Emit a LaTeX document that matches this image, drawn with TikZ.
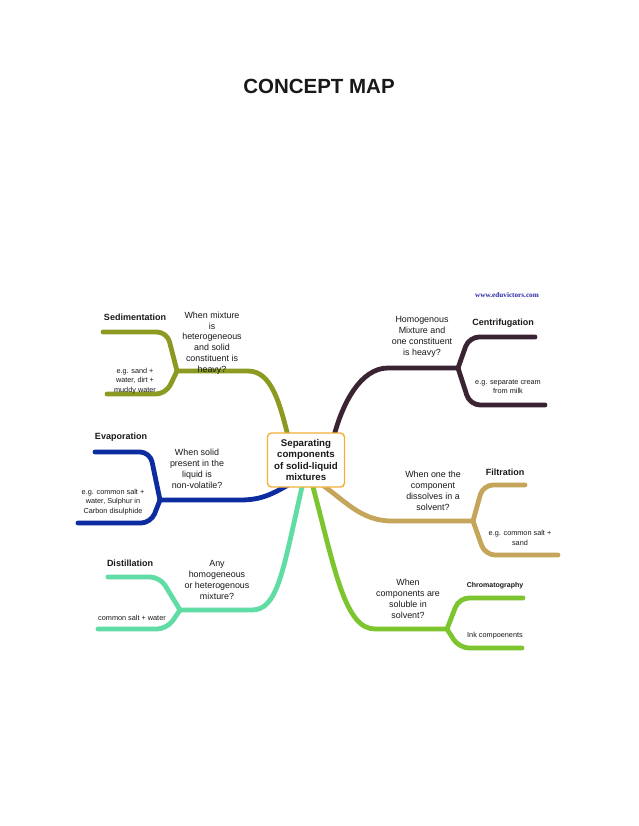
\documentclass[tikz,border=0pt]{standalone}
\usepackage{fontspec}
\setmainfont{Liberation Sans}
\newfontfamily\webfont{Liberation Serif}
\definecolor{colOlive}{RGB}{140,154,34}
\definecolor{colPurple}{RGB}{58,35,50}
\definecolor{colBlue}{RGB}{12,44,160}
\definecolor{colTan}{RGB}{196,165,90}
\definecolor{colMint}{RGB}{96,220,165}
\definecolor{colGreen}{RGB}{125,197,46}
\definecolor{colOrange}{RGB}{242,176,53}
\definecolor{colWeb}{RGB}{40,40,170}
\definecolor{colText}{RGB}{25,25,25}
\begin{document}
\begin{tikzpicture}[x=1pt,y=-1pt,
  br/.style={line width=4.8pt, line cap=round, line join=round},
  sub/.style={br, rounded corners=10pt},
  qtext/.style={align=center, font=\fontsize{8.9}{10.8}\selectfont, inner sep=0pt, text=colText},
  head/.style={font=\bfseries\fontsize{9}{11}\selectfont, inner sep=0pt, text=colText},
  extext/.style={align=center, font=\fontsize{7.3}{9.3}\selectfont, inner sep=0pt, text=colText},
]
\useasboundingbox (0,0) rectangle (638,826);
\fill[white] (0,0) rectangle (638,826);

% title
\node[font=\bfseries\fontsize{20.5}{24}\selectfont, text=colText] (title) at (319,86) {CONCEPT MAP};
\node[font=\webfont\bfseries\fontsize{7.2}{9}\selectfont, text=colWeb, inner sep=0pt] (web) at (507,295) {www.eduvictors.com};

% junction and end coordinates
\coordinate (o0) at (288,436); \coordinate (o1) at (248,371); \coordinate (oj) at (177,371);
\coordinate (ot) at (103,332); \coordinate (ob) at (107,394);
\coordinate (p0) at (334,436); \coordinate (p1) at (388,368); \coordinate (pj) at (458,368);
\coordinate (pt) at (535,337); \coordinate (pb) at (545,405);
\coordinate (b0) at (290,484); \coordinate (b1) at (240,500); \coordinate (bj) at (160,500);
\coordinate (bt) at (95,452); \coordinate (bb) at (78,523);
\coordinate (t0) at (318,482); \coordinate (t1) at (392,521); \coordinate (tj) at (473,521);
\coordinate (tt) at (525,485); \coordinate (tb) at (558,555);
\coordinate (m0) at (302,487); \coordinate (m1) at (252,610); \coordinate (mj) at (180,610);
\coordinate (mt) at (108,577); \coordinate (mb) at (98,629);
\coordinate (g0) at (313,487); \coordinate (g1) at (375,629); \coordinate (gj) at (447,629);
\coordinate (gt) at (523,598); \coordinate (gb) at (522,648);

% olive branch
\draw[br,colOlive] (o0) .. controls (280,405) and (272,371) .. (o1) -- (oj);
\draw[sub,colOlive] (oj) -- (167,332) -- (ot);
\draw[sub,colOlive] (oj) -- (166,394) -- (ob);
% purple branch
\draw[br,colPurple] (p0) .. controls (342,405) and (360,368) .. (p1) -- (pj);
\draw[sub,colPurple] (pj) -- (469,337) -- (pt);
\draw[sub,colPurple] (pj) -- (470,405) -- (pb);
% blue branch
\draw[br,colBlue] (b0) .. controls (272,494) and (262,500) .. (b1) -- (bj);
\draw[sub,colBlue] (bj) -- (150,452) -- (bt);
\draw[sub,colBlue] (bj) -- (151,523) -- (bb);
% tan branch
\draw[br,colTan] (t0) .. controls (345,500) and (360,521) .. (t1) -- (tj);
\draw[sub,colTan] (tj) -- (483,485) -- (tt);
\draw[sub,colTan] (tj) -- (485,555) -- (tb);
% mint branch
\draw[br,colMint] (m0) .. controls (283,570) and (278,610) .. (m1) -- (mj);
\draw[sub,colMint] (mj) -- (160,577) -- (mt);
\draw[sub,colMint] (mj) -- (167,629) -- (mb);
% green branch
\draw[br,colGreen] (g0) .. controls (335,570) and (345,629) .. (g1) -- (gj);
\draw[sub,colGreen] (gj) -- (459,598) -- (gt);
\draw[sub,colGreen] (gj) -- (459,648) -- (gb);

% central box
\node[draw=colOrange, line width=1.4pt, rounded corners=4pt, fill=white,
      minimum width=77pt, minimum height=54pt, align=center, inner sep=1pt,
      font=\bfseries\fontsize{9.7}{11.3}\selectfont, text=colText] (box) at (306,460)
      {Separating\\components\\of solid-liquid\\mixtures};

% olive texts
\node[qtext] (q1) at (212,343) {When mixture\\is\\heterogeneous\\and solid\\constituent is\\heavy?};
\node[head] (h1) at (135,317) {Sedimentation};
\node[extext] (e1) at (135,381) {e.g. sand +\\water, dirt +\\muddy water};
% purple texts
\node[qtext] (q2) at (422,337) {Homogenous\\Mixture and\\one constituent\\is heavy?};
\node[head] (h2) at (503,323) {Centrifugation};
\node[extext] (e2) at (508,387) {e.g. separate cream\\from milk};
% blue texts
\node[qtext] (q3) at (197,469) {When solid\\present in the\\liquid is\\non-volatile?};
\node[head] (h3) at (121,437) {Evaporation};
\node[extext] (e3) at (113,502) {e.g. common salt +\\water, Sulphur in\\Carbon disulphide};
% tan texts
\node[qtext] (q4) at (433,491) {When one the\\component\\dissolves in a\\solvent?};
\node[head] (h4) at (505,472) {Filtration};
\node[extext] (e4) at (520,538) {e.g. common salt +\\sand};
% mint texts
\node[qtext] (q5) at (217,580) {Any\\homogeneous\\or heterogenous\\mixture?};
\node[head] (h5) at (130,563) {Distillation};
\node[extext] (e5) at (132,618) {common salt + water};
% green texts
\node[qtext] (q6) at (408,599) {When\\components are\\soluble in\\solvent?};
\node[head, font=\bfseries\fontsize{7}{9}\selectfont] (h6) at (495,586) {Chromatography};
\node[extext] (e6) at (495,636) {Ink compoenents};
\end{tikzpicture}
\end{document}
